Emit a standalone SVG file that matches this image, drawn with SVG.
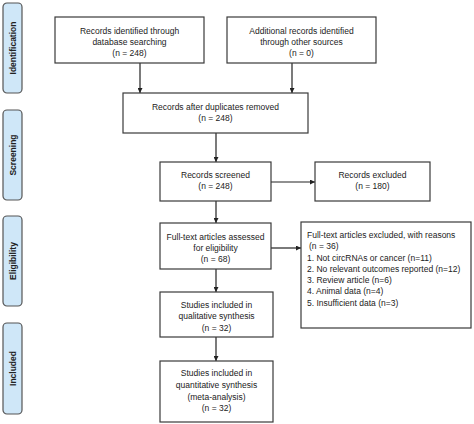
<svg xmlns="http://www.w3.org/2000/svg" width="474" height="424" viewBox="0 0 474 424">
<style>
.box{fill:#fff;stroke:#3a3a3a;stroke-width:1.2}
.phase{fill:#cfe7f8;stroke:#555;stroke-width:1.2}
.t{font-family:"Liberation Sans",Arial,sans-serif;font-size:8.5px;fill:#222;text-anchor:middle}
.l{text-anchor:start}
.p{font-family:"Liberation Sans",Arial,sans-serif;font-size:8.5px;font-weight:bold;fill:#222;text-anchor:middle}
.c{stroke:#222;stroke-width:1.2;fill:none;marker-end:url(#ah)}
</style>
<defs>
<marker id="ah" viewBox="0 0 10 10" refX="10" refY="5" markerWidth="5" markerHeight="5" orient="auto" markerUnits="userSpaceOnUse">
<path d="M0,0 L10,5 L0,10 z" fill="#222"/>
</marker>
</defs>
<rect width="474" height="424" fill="#fff"/>
<g id="phase-identification"><rect class="phase" x="3" y="3" width="19" height="90" rx="4"/><text class="p" transform="translate(15.5,48) rotate(-90)">Identification</text></g>
<g id="phase-screening"><rect class="phase" x="3" y="110" width="19" height="90" rx="4"/><text class="p" transform="translate(15.5,155) rotate(-90)">Screening</text></g>
<g id="phase-eligibility"><rect class="phase" x="3" y="216" width="19" height="90" rx="4"/><text class="p" transform="translate(15.5,261) rotate(-90)">Eligibility</text></g>
<g id="phase-included"><rect class="phase" x="3" y="323" width="19" height="91" rx="4"/><text class="p" transform="translate(15.5,368.5) rotate(-90)">Included</text></g>

<g id="connectors">
<path class="c" d="M140,63 V93"/>
<path class="c" d="M292,63 V93"/>
<path class="c" d="M216,133 V162"/>
<path class="c" d="M271,182 H315"/>
<path class="c" d="M216,201 V223"/>
<path class="c" d="M271,248 H301"/>
<path class="c" d="M216,269 V292"/>
<path class="c" d="M216,337 V361"/>
</g>

<g id="records-identified"><rect class="box" x="55" y="17" width="149" height="46"/>
<text class="t" x="129.5" y="34">Records identified through</text>
<text class="t" x="129.5" y="45">database searching</text>
<text class="t" x="129.5" y="56">(n = 248)</text></g>
<g id="additional-records"><rect class="box" x="227" y="17" width="149" height="46"/>
<text class="t" x="301.5" y="34">Additional records identified</text>
<text class="t" x="301.5" y="45">through other sources</text>
<text class="t" x="301.5" y="56">(n = 0)</text></g>
<g id="after-duplicates"><rect class="box" x="123" y="93" width="185" height="40"/>
<text class="t" x="215.5" y="110">Records after duplicates removed</text>
<text class="t" x="215.5" y="121">(n = 248)</text></g>
<g id="records-screened"><rect class="box" x="160" y="162" width="111" height="39"/>
<text class="t" x="215.5" y="178">Records screened</text>
<text class="t" x="215.5" y="189">(n = 248)</text></g>
<g id="records-excluded"><rect class="box" x="315" y="162" width="115" height="39"/>
<text class="t" x="372.5" y="178">Records excluded</text>
<text class="t" x="372.5" y="189">(n = 180)</text></g>
<g id="fulltext-assessed"><rect class="box" x="160" y="223" width="111" height="46"/>
<text class="t" x="215.5" y="240">Full-text articles assessed</text>
<text class="t" x="215.5" y="251">for eligibility</text>
<text class="t" x="215.5" y="262">(n = 68)</text></g>
<g id="fulltext-excluded"><rect class="box" x="301" y="222" width="170" height="106"/>
<text class="t l" x="307" y="238">Full-text articles excluded, with reasons</text>
<text class="t l" x="309" y="249">(n = 36)</text>
<text class="t l" x="307" y="261">1. Not circRNAs or cancer (n=11)</text>
<text class="t l" x="307" y="272">2. No relevant outcomes reported (n=12)</text>
<text class="t l" x="307" y="283">3. Review article (n=6)</text>
<text class="t l" x="307" y="294">4. Animal data (n=4)</text>
<text class="t l" x="307" y="306">5. Insufficient data (n=3)</text></g>
<g id="qualitative"><rect class="box" x="160" y="292" width="113" height="45"/>
<text class="t" x="216.5" y="308">Studies included in</text>
<text class="t" x="216.5" y="319">qualitative synthesis</text>
<text class="t" x="216.5" y="331">(n = 32)</text></g>
<g id="quantitative"><rect class="box" x="160" y="361" width="113" height="61"/>
<text class="t" x="216.5" y="376">Studies included in</text>
<text class="t" x="216.5" y="388">quantitative synthesis</text>
<text class="t" x="216.5" y="400">(meta-analysis)</text>
<text class="t" x="216.5" y="411">(n = 32)</text></g>
</svg>
